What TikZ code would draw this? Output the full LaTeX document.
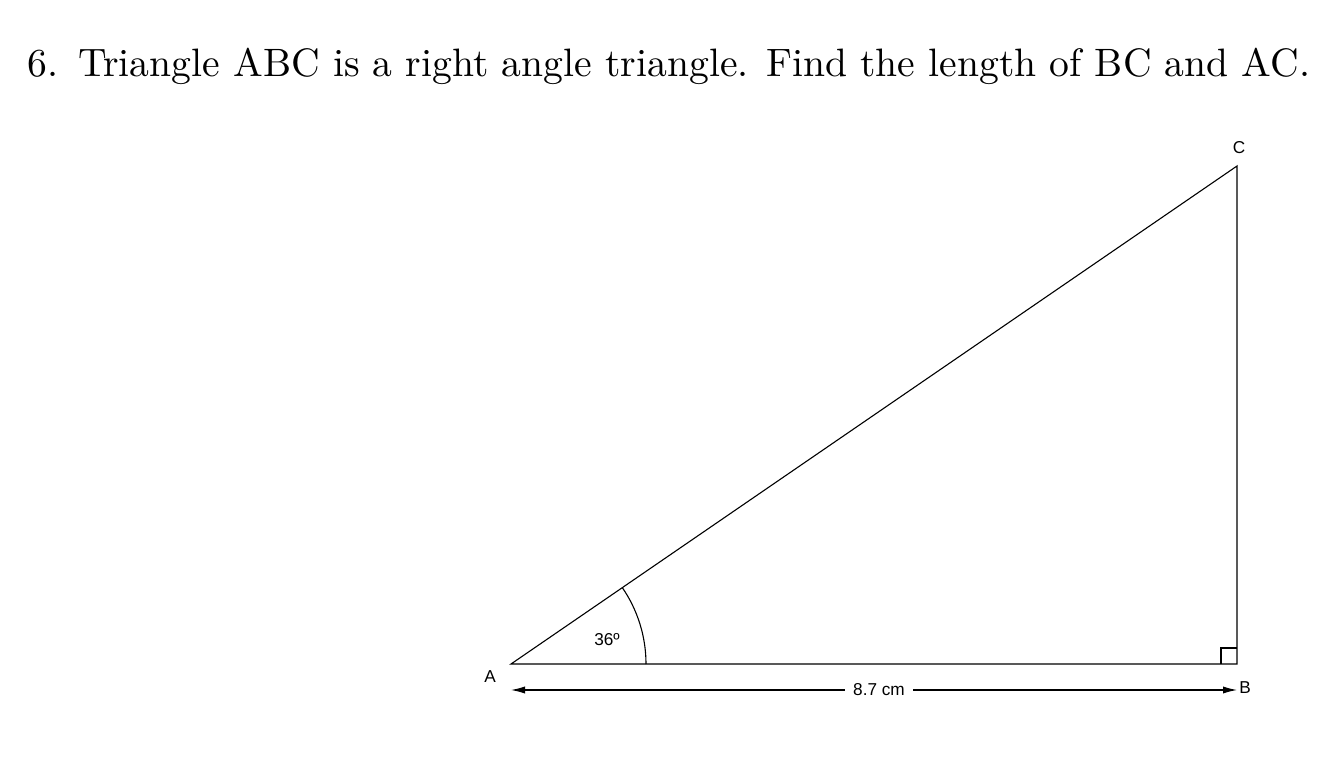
\documentclass[tikz,border=0pt]{standalone}
\usepackage{fontspec}
\newfontfamily\lblfont{Liberation Sans}
\newfontfamily\titlefont{lmroman10-regular.otf}
\usetikzlibrary{arrows.meta}
\begin{document}
\begin{tikzpicture}[x=0.5pt,y=-0.5pt,
  edge/.style={line width=0.55pt,black},
  lbl/.style={font=\lblfont\fontsize{8.6}{10}\selectfont,inner sep=0pt},
  dim/.style={line width=0.55pt,{Latex[length=7pt,width=3.6pt]}-{Latex[length=7pt,width=3.6pt]}}]
\useasboundingbox (0,0) rectangle (1337,763);
\node[anchor=base west,inner sep=0pt,font=\titlefont\fontsize{19.82}{24}\selectfont] (title) at (27,77)
  {6.\hspace{0.5em}Triangle ABC is a right angle triangle. Find the length of BC and AC.};
\coordinate (A) at (511,664);
\coordinate (B) at (1237,664);
\coordinate (C) at (1237,166);
\draw[edge] (A) -- (B) -- (C) -- cycle;
\draw[edge] (1221,664) -- (1221,648) -- (1237,648);
\draw[edge] (646,664) arc[start angle=0,end angle=34.45,x radius=135,y radius=-135];
\coordinate (DA) at (511,690);
\coordinate (DB) at (1237,690);
\draw[dim] (DA) -- (DB);
\node[lbl,fill=white,inner xsep=4pt,inner ysep=2pt] (len) at (879,690) {8.7 cm};
\node[lbl] (la) at (490,677) {A};
\node[lbl] (lb) at (1245,688) {B};
\node[lbl] (lc) at (1239,148) {C};
\node[lbl] (ang) at (607,640) {36º};
\end{tikzpicture}
\end{document}
